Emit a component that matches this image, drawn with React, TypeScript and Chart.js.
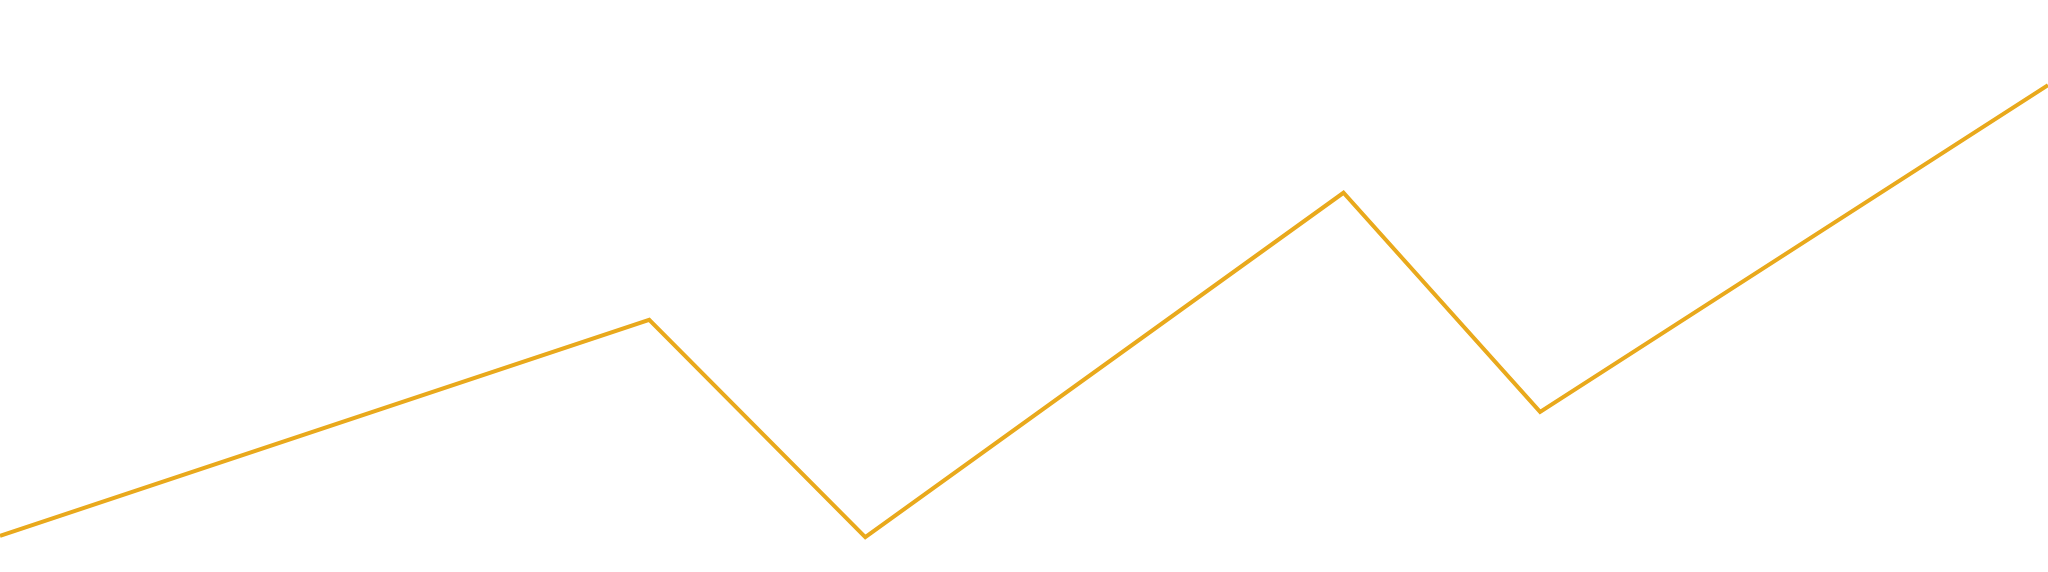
import React, { useEffect, useRef } from "react";
import { Chart, registerables } from "chart.js";

Chart.register(...registerables);

// Horizontal position of each point (0–100 across the chart)
const xPositions = [0, 31.7, 42.25, 65.6, 75.2, 100];
// Series values (0–100 from the bottom to the top)
const seriesValues = [6.3, 44.1, 6.1, 66.3, 28.0, 85.1];

const lineColor = "#E9A91C";

export default function App() {
  const canvasRef = useRef<HTMLCanvasElement | null>(null);

  useEffect(() => {
    if (!canvasRef.current) return;
    const points = xPositions.map((x, i) => ({ x, y: seriesValues[i] }));
    const chart = new Chart(canvasRef.current, {
      type: "line",
      data: {
        datasets: [
          {
            data: points,
            borderColor: lineColor,
            backgroundColor: lineColor,
            borderWidth: 4,
            pointRadius: 0,
            pointHoverRadius: 0,
            tension: 0,
            fill: false,
            borderJoinStyle: "miter",
          },
        ],
      },
      options: {
        animation: false,
        responsive: true,
        maintainAspectRatio: false,
        layout: { padding: 0 },
        plugins: {
          legend: { display: false },
          tooltip: { enabled: false },
          title: { display: false },
        },
        scales: {
          x: { type: "linear", min: 0, max: 100, display: false },
          y: { type: "linear", min: 0, max: 100, display: false },
        },
      },
    });
    return () => chart.destroy();
  }, []);

  return (
    <div
      style={{
        position: "fixed",
        left: 0,
        top: 0,
        width: "100vw",
        height: "100vh",
        background: "#ffffff",
      }}
    >
      <canvas ref={canvasRef} />
    </div>
  );
}
